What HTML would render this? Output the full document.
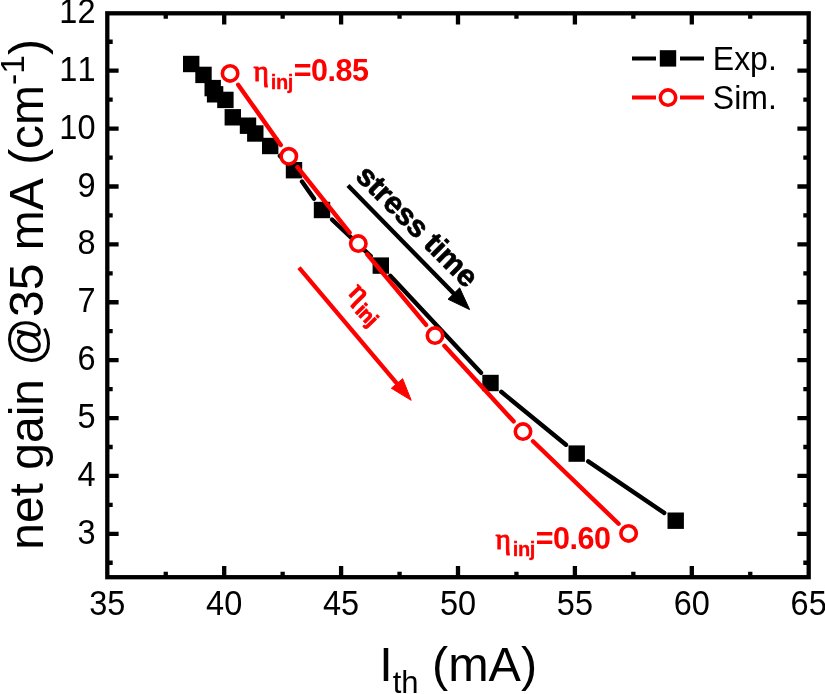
<!DOCTYPE html>
<html><head><meta charset="utf-8"><title>net gain vs Ith</title>
<style>html,body{margin:0;padding:0;background:#fff}body{width:825px;height:694px;overflow:hidden}</style></head>
<body>
<svg width="825" height="694" viewBox="0 0 825 694" style="display:block">
<rect x="0" y="0" width="825" height="694" fill="#fff"/>
<path d="M224.20 577.2v-11.3M224.20 13.3v11.3M341.10 577.2v-11.3M341.10 13.3v11.3M458.00 577.2v-11.3M458.00 13.3v11.3M574.90 577.2v-11.3M574.90 13.3v11.3M691.80 577.2v-11.3M691.80 13.3v11.3M165.75 577.2v-5.4M165.75 13.3v5.4M282.65 577.2v-5.4M282.65 13.3v5.4M399.55 577.2v-5.4M399.55 13.3v5.4M516.45 577.2v-5.4M516.45 13.3v5.4M633.35 577.2v-5.4M633.35 13.3v5.4M750.25 577.2v-5.4M750.25 13.3v5.4M107.3 533.82h11.3M808.7 533.82h-11.3M107.3 475.93h11.3M808.7 475.93h-11.3M107.3 418.04h11.3M808.7 418.04h-11.3M107.3 360.15h11.3M808.7 360.15h-11.3M107.3 302.26h11.3M808.7 302.26h-11.3M107.3 244.37h11.3M808.7 244.37h-11.3M107.3 186.48h11.3M808.7 186.48h-11.3M107.3 128.59h11.3M808.7 128.59h-11.3M107.3 70.70h11.3M808.7 70.70h-11.3M107.3 562.76h5.4M808.7 562.76h-5.4M107.3 504.88h5.4M808.7 504.88h-5.4M107.3 446.99h5.4M808.7 446.99h-5.4M107.3 389.09h5.4M808.7 389.09h-5.4M107.3 331.20h5.4M808.7 331.20h-5.4M107.3 273.31h5.4M808.7 273.31h-5.4M107.3 215.43h5.4M808.7 215.43h-5.4M107.3 157.54h5.4M808.7 157.54h-5.4M107.3 99.65h5.4M808.7 99.65h-5.4M107.3 41.76h5.4M808.7 41.76h-5.4" stroke="#000" stroke-width="4.3" fill="none"/>
<rect x="107.3" y="13.3" width="701.40" height="563.90" fill="none" stroke="#000" stroke-width="4.3"/>
<g font-family="'Liberation Sans', sans-serif" font-size="32.5" fill="#000" style="font-kerning:none">
<text transform="translate(107.30 614.7) scale(1 1.075)" text-anchor="middle">35</text>
<text transform="translate(224.20 614.7) scale(1 1.075)" text-anchor="middle">40</text>
<text transform="translate(341.10 614.7) scale(1 1.075)" text-anchor="middle">45</text>
<text transform="translate(458.00 614.7) scale(1 1.075)" text-anchor="middle">50</text>
<text transform="translate(574.90 614.7) scale(1 1.075)" text-anchor="middle">55</text>
<text transform="translate(691.80 614.7) scale(1 1.075)" text-anchor="middle">60</text>
<text transform="translate(808.70 614.7) scale(1 1.075)" text-anchor="middle">65</text>
<text transform="translate(95.5 543.92) scale(1 1.075)" text-anchor="end">3</text>
<text transform="translate(95.5 486.03) scale(1 1.075)" text-anchor="end">4</text>
<text transform="translate(95.5 428.14) scale(1 1.075)" text-anchor="end">5</text>
<text transform="translate(95.5 370.25) scale(1 1.075)" text-anchor="end">6</text>
<text transform="translate(95.5 312.36) scale(1 1.075)" text-anchor="end">7</text>
<text transform="translate(95.5 254.47) scale(1 1.075)" text-anchor="end">8</text>
<text transform="translate(95.5 196.58) scale(1 1.075)" text-anchor="end">9</text>
<text transform="translate(95.5 138.69) scale(1 1.075)" text-anchor="end">10</text>
<text transform="translate(95.5 80.80) scale(1 1.075)" text-anchor="end">11</text>
<text transform="translate(95.5 22.91) scale(1 1.075)" text-anchor="end">12</text>
</g>
<path d="M279.95 155.91L284.25 160.29M302.00 181.57L314.00 198.63M332.10 219.55L370.70 256.05M390.29 275.76L481.01 372.84M501.25 391.81L565.95 444.79M588.21 461.40L664.19 512.90" stroke="#000" stroke-width="4.4" stroke-linecap="round" fill="none"/>
<rect x="183.00" y="55.80" width="16.4" height="16.4" fill="#000"/>
<rect x="195.30" y="66.70" width="16.4" height="16.4" fill="#000"/>
<rect x="204.50" y="79.90" width="16.4" height="16.4" fill="#000"/>
<rect x="206.90" y="86.10" width="16.4" height="16.4" fill="#000"/>
<rect x="217.20" y="91.70" width="16.4" height="16.4" fill="#000"/>
<rect x="224.60" y="109.10" width="16.4" height="16.4" fill="#000"/>
<rect x="239.80" y="117.50" width="16.4" height="16.4" fill="#000"/>
<rect x="247.10" y="125.30" width="16.4" height="16.4" fill="#000"/>
<rect x="262.00" y="137.80" width="16.4" height="16.4" fill="#000"/>
<rect x="285.80" y="162.00" width="16.4" height="16.4" fill="#000"/>
<rect x="313.80" y="201.80" width="16.4" height="16.4" fill="#000"/>
<rect x="372.60" y="257.40" width="16.4" height="16.4" fill="#000"/>
<rect x="482.30" y="374.80" width="16.4" height="16.4" fill="#000"/>
<rect x="568.50" y="445.40" width="16.4" height="16.4" fill="#000"/>
<rect x="667.50" y="512.50" width="16.4" height="16.4" fill="#000"/>
<path d="M238.13 84.74L280.77 144.96M297.46 167.17L349.64 232.73M367.20 254.28L426.10 324.92M444.39 345.85L513.61 421.35M533.01 441.25L618.59 523.75" stroke="#f00" stroke-width="4.4" stroke-linecap="round" fill="none"/>
<circle cx="230.1" cy="73.4" r="7.7" fill="#fff" stroke="#f00" stroke-width="3.6"/>
<circle cx="288.8" cy="156.3" r="7.7" fill="#fff" stroke="#f00" stroke-width="3.6"/>
<circle cx="358.3" cy="243.6" r="7.7" fill="#fff" stroke="#f00" stroke-width="3.6"/>
<circle cx="435" cy="335.6" r="7.7" fill="#fff" stroke="#f00" stroke-width="3.6"/>
<circle cx="523" cy="431.6" r="7.7" fill="#fff" stroke="#f00" stroke-width="3.6"/>
<circle cx="628.6" cy="533.4" r="7.7" fill="#fff" stroke="#f00" stroke-width="3.6"/>
<path d="M348.00 185.60L455.25 294.96" stroke="#000" stroke-width="4.3" fill="none"/><path d="M469.60 309.60L448.06 299.21L459.63 287.86Z" fill="#000" stroke="#000" stroke-width="1" stroke-linejoin="round"/>
<path d="M299.00 267.60L398.29 385.03" stroke="#f00" stroke-width="4.3" fill="none"/><path d="M411.20 400.30L391.34 388.28L402.65 378.72Z" fill="#f00" stroke="#f00" stroke-width="1" stroke-linejoin="round"/>
<path d="M632 58.4h24M680 58.4h24" stroke="#000" stroke-width="4"/>
<rect x="659.8" y="50.2" width="16.4" height="16.4" fill="#000"/>
<path d="M632 97.6h24M680 97.6h24" stroke="#f00" stroke-width="4"/>
<circle cx="668" cy="97.6" r="7.7" fill="#fff" stroke="#f00" stroke-width="3.6"/>
<g font-family="'Liberation Sans', sans-serif" font-size="32" fill="#000">
<text transform="translate(712.8 70.2) scale(1 1.035)">Exp.</text>
<text transform="translate(712.8 109.2) scale(1 1.035)">Sim.</text>
</g>
<text x="252.5" y="81" font-family="'Liberation Sans', sans-serif" font-weight="bold" font-size="30.5" letter-spacing="-0.45" fill="#f00"><tspan font-family="'Liberation Serif', serif" font-weight="normal" stroke="#f00" stroke-width="1.0" stroke-linejoin="round" font-size="29.5" dx="0.9">η</tspan><tspan font-size="20" dy="7.7" dx="2.4" stroke="#f00" stroke-width="0.3" stroke-linejoin="round">inj</tspan><tspan dy="-7.7" dx="0.9">=0.85</tspan></text>
<text x="494.5" y="548.6" font-family="'Liberation Sans', sans-serif" font-weight="bold" font-size="30.5" letter-spacing="-0.45" fill="#f00"><tspan font-family="'Liberation Serif', serif" font-weight="normal" stroke="#f00" stroke-width="1.0" stroke-linejoin="round" font-size="29.5" dx="0.9">η</tspan><tspan font-size="20" dy="7.7" dx="2.4" stroke="#f00" stroke-width="0.3" stroke-linejoin="round">inj</tspan><tspan dy="-7.7" dx="0.9">=0.60</tspan></text>
<text x="347" y="293.2" transform="rotate(46 347 293.2)" font-family="'Liberation Sans', sans-serif" font-weight="bold" font-size="30.5" letter-spacing="-0.45" fill="#f00"><tspan font-family="'Liberation Serif', serif" font-weight="normal" stroke="#f00" stroke-width="1.6" stroke-linejoin="round" font-size="29.5" dx="0.9">η</tspan><tspan font-size="20" dy="7.7" dx="2.4" stroke="#f00" stroke-width="0.8999999999999999" stroke-linejoin="round">inj</tspan></text>
<text x="354.3" y="177.5" transform="rotate(45 354.3 177.5)" font-family="'Liberation Sans', sans-serif" font-weight="bold" font-size="30.5" letter-spacing="-0.3" fill="#000" stroke="#000" stroke-width="0.7" stroke-linejoin="round">stress time</text>
<text transform="translate(379.2 680.9) scale(1 1.0)" font-family="'Liberation Sans', sans-serif" font-size="48.5" fill="#000">I<tspan font-size="31" dy="11.7">th</tspan><tspan dy="-11.7"> (mA)</tspan></text>
<text transform="translate(43.4 549.8) rotate(-90)" style="font-kerning:none" font-family="'Liberation Sans', sans-serif" font-size="48" fill="#000">net gain @35 mA (cm<tspan font-size="33.5" dy="-19.7" dx="0">-</tspan><tspan font-size="33.5" dx="0">1</tspan><tspan dy="19.7" dx="0">)</tspan></text>
</svg>
</body></html>
